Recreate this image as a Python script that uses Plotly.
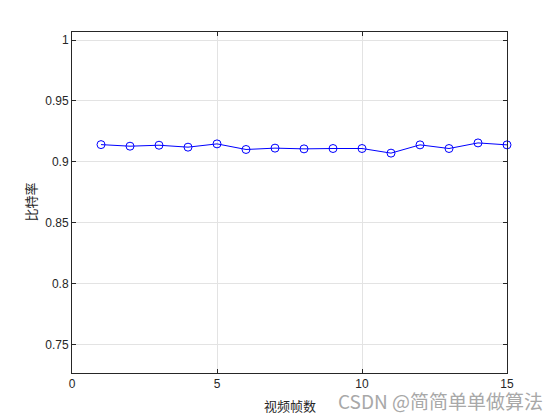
import plotly.graph_objects as go

# frame index and bit-rate ratio
frames = list(range(1, 16))
ratio = [0.9141, 0.9128, 0.9136, 0.9120, 0.9147, 0.9101, 0.9112, 0.9106,
         0.9109, 0.9109, 0.9071, 0.9139, 0.9109, 0.9155, 0.9139]
x_ticks = [0, 5, 10, 15]
y_ticks = [0.75, 0.8, 0.85, 0.9, 0.95, 1]
y_tick_text = ["0.75", "0.8", "0.85", "0.9", "0.95", "1"]

fig = go.Figure(data=[go.Scatter(
    x=frames, y=ratio, mode="lines+markers",
    line=dict(color="#0000ff", width=1),
    marker=dict(symbol="circle-open", size=8, color="#0000ff", line=dict(width=1)),
    cliponaxis=False,
)])

axis_style = dict(
    showline=True, linecolor="#262626", linewidth=1, mirror="ticks",
    ticks="inside", ticklen=4, tickcolor="#262626",
    showgrid=True, gridcolor="#e3e3e3", gridwidth=1, zeroline=False,
    tickfont=dict(family="Liberation Sans, Arial", size=12, color="#262626"),
)

fig.update_xaxes(range=[0, 15], tickvals=x_ticks, **axis_style)
fig.update_yaxes(range=[0.7265, 1.0066], tickvals=y_ticks, ticktext=y_tick_text, **axis_style)

# page has an 8px body margin, so the figure is a bit smaller than the window
fig.update_layout(
    width=552, height=412,
    margin=dict(l=64, r=53, t=24, b=47),
    paper_bgcolor="white", plot_bgcolor="white",
    showlegend=False,
    annotations=[
        dict(text="视频帧数", x=0.5, y=-33 / 341, xref="paper", yref="paper",
             xanchor="center", yanchor="middle", showarrow=False,
             font=dict(family="Noto Sans CJK SC", size=13, color="#262626")),
        dict(text="比特率", x=-42 / 435, y=0.5, xref="paper", yref="paper",
             xanchor="center", yanchor="middle", showarrow=False, textangle=-90,
             font=dict(family="Noto Sans CJK SC", size=13, color="#262626")),
        dict(text="CSDN @简简单单做算法", x=473 / 435, y=-27 / 341,
             xref="paper", yref="paper", xanchor="right", yanchor="middle",
             showarrow=False,
             font=dict(family="Noto Sans CJK SC", size=19, color="#a8a8a8")),
    ],
)

fig.write_html("out.html")
